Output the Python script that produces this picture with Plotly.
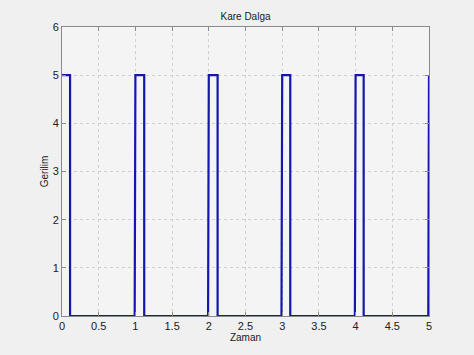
import plotly.graph_objects as go

# Square wave data (time, voltage)
zaman = [0.0, 0.11, 0.11, 0.99, 1.0, 1.12, 1.12, 1.99, 2.0, 2.12, 2.12, 2.99, 3.0, 3.11, 3.11,
         3.99, 4.0, 4.11, 4.11, 4.99, 5.0]
gerilim = [5, 5, 0, 0, 5, 5, 0, 0, 5, 5, 0, 0, 5, 5, 0,
           0, 5, 5, 0, 0, 5]

x_ticks = [0, 0.5, 1, 1.5, 2, 2.5, 3, 3.5, 4, 4.5, 5]
x_tick_labels = ["0", "0.5", "1", "1.5", "2", "2.5", "3", "3.5", "4", "4.5", "5"]
y_ticks = [0, 1, 2, 3, 4, 5, 6]

fig = go.Figure()
fig.add_trace(go.Scatter(
    x=zaman, y=gerilim, mode="lines",
    line=dict(color="#1515b0", width=2.2),
    showlegend=False, hoverinfo="skip",
))

axis_common = dict(
    showline=True, linecolor="#8a8a8a", linewidth=1, mirror="ticks",
    ticks="inside", ticklen=4, tickcolor="#8a8a8a",
    showgrid=True, gridcolor="#d0d0d0", griddash="dot", gridwidth=1,
    zeroline=False,
    tickfont=dict(family="Liberation Sans, Arial, sans-serif", size=11, color="#202020"),
)

fig.update_layout(
    width=474, height=355,
    margin=dict(l=62, r=45, t=27, b=39),
    paper_bgcolor="#f0f0f0",
    plot_bgcolor="#f4f4f4",
    title=dict(text="Kare Dalga", x=(62 + 429) / 2 / 474, xanchor="center",
               y=1 - 16 / 355, yanchor="middle",
               font=dict(family="Liberation Sans, Arial, sans-serif", size=10, color="#202020")),
    xaxis=dict(range=[0, 5], tickvals=x_ticks, ticktext=x_tick_labels,
               title=dict(text="Zaman", standoff=2,
                          font=dict(family="Liberation Sans, Arial, sans-serif", size=10, color="#202020")),
               **axis_common),
    yaxis=dict(range=[0, 6], tickvals=y_ticks,
               title=dict(text="Gerilim", standoff=2,
                          font=dict(family="Liberation Sans, Arial, sans-serif", size=10, color="#202020")),
               **axis_common),
)

fig.write_html("out.html")
